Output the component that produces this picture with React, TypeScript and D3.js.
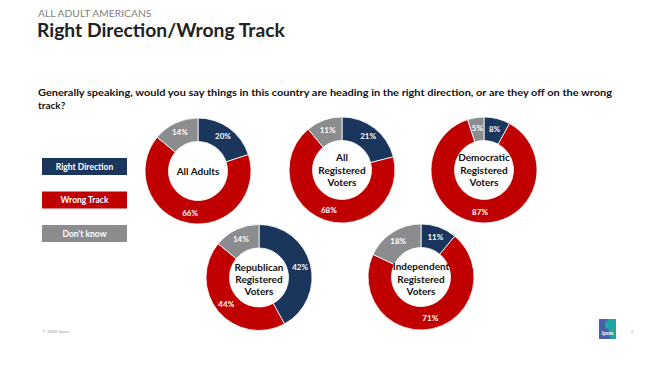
import React from "react";
import * as d3 from "d3";

const categories = ["Right Direction", "Wrong Track", "Don't know"];
const colors = ["#1B365D", "#C00000", "#8A8C8E"];
const groups = [
  ["All Adults"],
  ["All", "Registered", "Voters"],
  ["Democratic", "Registered", "Voters"],
  ["Republican", "Registered", "Voters"],
  ["Independent", "Registered", "Voters"],
];
const rightDirection = [20, 21, 8, 42, 11];
const wrongTrack = [66, 68, 87, 44, 71];
const dontKnow = [14, 11, 5, 14, 18];

const centers: [number, number][] = [
  [198, 171],
  [342, 170],
  [484, 170],
  [259, 277.5],
  [421, 277],
];

const FONT = "Lato, 'Open Sans', sans-serif";

export default function App() {
  const outerR = 53;
  const innerR = 29.5;
  const pie = d3.pie<number>().sort(null).value((d) => d);
  const arc = d3.arc<d3.PieArcDatum<number>>().innerRadius(innerR).outerRadius(outerR);
  const labelArc = d3.arc<d3.PieArcDatum<number>>().innerRadius(42.5).outerRadius(42.5);

  return (
    <svg width={663} height={376} style={{ position: "absolute", left: 0, top: 0, background: "#fff" }}>
      <text x={38} y={17} fontFamily={FONT} fontSize={10.3} fill="#7f7f7f">ALL ADULT AMERICANS</text>
      <text x={37} y={36.5} fontFamily={FONT} fontSize={19.3} fontWeight="bold" fill="#222">Right Direction/Wrong Track</text>
      <text x={38} y={96} fontFamily={FONT} fontSize={10} fontWeight="bold" fill="#111" textLength={574} lengthAdjust="spacingAndGlyphs">
        Generally speaking, would you say things in this country are heading in the right direction, or are they off on the wrong
      </text>
      <text x={38} y={109} fontFamily={FONT} fontSize={10} fontWeight="bold" fill="#111">track?</text>

      {categories.map((c, i) => (
        <g key={c} transform={`translate(42,${158 + i * 33.5})`}>
          <rect width={85} height={17} fill={colors[i]} />
          <text x={42.5} y={11.8} textAnchor="middle" fontFamily={FONT} fontSize={8.5} fontWeight="bold" fill="#fff">{c}</text>
        </g>
      ))}

      {groups.map((g, gi) => {
        const vals = [rightDirection[gi], wrongTrack[gi], dontKnow[gi]];
        const arcs = pie(vals);
        const [cx, cy] = centers[gi];
        const off = gi >= 3 ? 2 : 0;
        return (
          <g key={gi} transform={`translate(${cx},${cy})`}>
            {arcs.map((a, i) => (
              <path key={i} d={arc(a) || ""} fill={colors[i]} stroke="#fff" strokeWidth={0.8} />
            ))}
            {arcs.map((a, i) => {
              const [lx, ly] = labelArc.centroid(a);
              return (
                <text key={"l" + i} x={lx} y={ly} dy="0.35em" textAnchor="middle" fontFamily={FONT} fontSize={8} fontWeight="bold" fill="#fff">
                  {vals[i]}%
                </text>
              );
            })}
            {g.map((line, li) => (
              <text key={"c" + li} x={0} y={off + (li - (g.length - 1) / 2) * 12.2} dy="0.35em" textAnchor="middle" fontFamily={FONT} fontSize={10} fontWeight="bold" fill="#111">
                {line}
              </text>
            ))}
          </g>
        );
      })}

      <text x={42} y={333} fontFamily={FONT} fontSize={4.5} fill="#999">© 2020 Ipsos</text>
      <rect x={599} y={319} width={17} height={20} fill="#4B5FA8" />
      <path d="M607,319 h9 v20 h-6 z" fill="#1AAE9F" opacity={0.9} />
      <ellipse cx={607} cy={325} rx={2} ry={3.5} fill="#1AAE9F" />
      <text x={607.5} y={335} textAnchor="middle" fontFamily={FONT} fontSize={5} fontWeight="bold" fill="#fff">Ipsos</text>
      <text x={631} y={333} fontFamily={FONT} fontSize={4.5} fill="#999">5</text>
    </svg>
  );
}
